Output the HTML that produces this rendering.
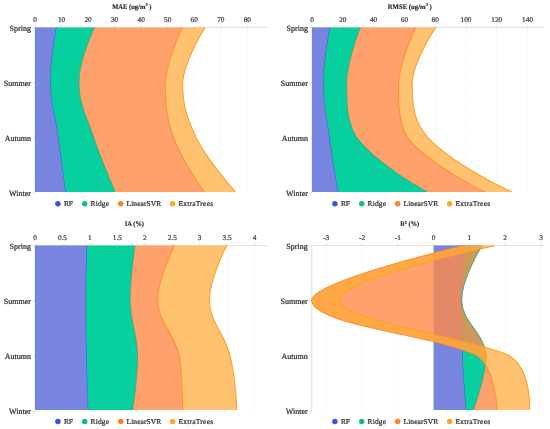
<!DOCTYPE html>
<html lang="en"><head><meta charset="utf-8"><title>Seasonal model metrics</title>
<style>
html,body{margin:0;padding:0;background:#fff;}
body{width:550px;height:429px;overflow:hidden;}
svg{display:block;}
text{font-family:"Liberation Serif", "DejaVu Serif", serif;fill:#2e2e2e;text-rendering:geometricPrecision;stroke:#2e2e2e;stroke-width:0.22px;}
.xl{font-size:7.3px;text-anchor:middle;fill:#3a3a3a;stroke:#3a3a3a;}
.yl{font-size:8px;text-anchor:end;}
.lg{font-size:7.5px;}
.tt{font-size:7px;font-weight:bold;text-anchor:middle;fill:#1e1e1e;stroke:#1e1e1e;stroke-width:0.15px;}
.sl{stroke:#e9e9e9;stroke-width:0.6;stroke-dasharray:1.6 1.6;}
.ax{stroke:#d2d2d2;stroke-width:0.7;}
</style></head>
<body>
<svg width="550" height="429" viewBox="0 0 550 429">
<rect width="550" height="429" fill="#fff"/>
<g class="panel">
<line x1="35" y1="27.4" x2="35" y2="191.9" class="sl"/>
<line x1="61.54" y1="27.4" x2="61.54" y2="191.9" class="sl"/>
<line x1="88.08" y1="27.4" x2="88.08" y2="191.9" class="sl"/>
<line x1="114.62" y1="27.4" x2="114.62" y2="191.9" class="sl"/>
<line x1="141.16" y1="27.4" x2="141.16" y2="191.9" class="sl"/>
<line x1="167.7" y1="27.4" x2="167.7" y2="191.9" class="sl"/>
<line x1="194.24" y1="27.4" x2="194.24" y2="191.9" class="sl"/>
<line x1="220.78" y1="27.4" x2="220.78" y2="191.9" class="sl"/>
<line x1="247.32" y1="27.4" x2="247.32" y2="191.9" class="sl"/>
<line x1="35" y1="27.4" x2="35" y2="193.35" class="ax"/>
<line x1="35" y1="27.4" x2="267.5" y2="27.4" class="ax"/>
<line x1="35" y1="24.9" x2="35" y2="27.4" class="ax"/>
<line x1="61.54" y1="24.9" x2="61.54" y2="27.4" class="ax"/>
<line x1="88.08" y1="24.9" x2="88.08" y2="27.4" class="ax"/>
<line x1="114.62" y1="24.9" x2="114.62" y2="27.4" class="ax"/>
<line x1="141.16" y1="24.9" x2="141.16" y2="27.4" class="ax"/>
<line x1="167.7" y1="24.9" x2="167.7" y2="27.4" class="ax"/>
<line x1="194.24" y1="24.9" x2="194.24" y2="27.4" class="ax"/>
<line x1="220.78" y1="24.9" x2="220.78" y2="27.4" class="ax"/>
<line x1="247.32" y1="24.9" x2="247.32" y2="27.4" class="ax"/>
<line x1="32.5" y1="27.6" x2="35" y2="27.6" class="ax"/>
<line x1="32.5" y1="82.75" x2="35" y2="82.75" class="ax"/>
<line x1="32.5" y1="137.9" x2="35" y2="137.9" class="ax"/>
<line x1="32.5" y1="193.05" x2="35" y2="193.05" class="ax"/>
<text x="35" y="22.1" class="xl">0</text>
<text x="61.54" y="22.1" class="xl">10</text>
<text x="88.08" y="22.1" class="xl">20</text>
<text x="114.62" y="22.1" class="xl">30</text>
<text x="141.16" y="22.1" class="xl">40</text>
<text x="167.7" y="22.1" class="xl">50</text>
<text x="194.24" y="22.1" class="xl">60</text>
<text x="220.78" y="22.1" class="xl">70</text>
<text x="247.32" y="22.1" class="xl">80</text>
<text x="30.9" y="30.8" class="yl">Spring</text>
<text x="30.9" y="85.95" class="yl">Summer</text>
<text x="30.9" y="141.1" class="yl">Autumn</text>
<text x="30.9" y="196.25" class="yl">Winter</text>
<text x="131.8" y="8.5" class="tt" textLength="39.2" lengthAdjust="spacingAndGlyphs">MAE (ug/m<tspan dy="-2.4" font-size="4.7">3</tspan><tspan dy="2.4"> )</tspan></text>
<path d="M56.42 27.4C56.42 27.4 50.5 60.35 50.5 82.23C50.91 104.22 55.43 115.11 58.49 137.07C61.54 158.98 65.79 191.9 65.79 191.9L35 191.9L35 27.4Z" fill="#4c5fd7" fill-opacity="0.76"/>
<path d="M56.42 27.4C56.42 27.4 50.5 60.35 50.5 82.23C50.91 104.22 55.43 115.11 58.49 137.07C61.54 158.98 65.79 191.9 65.79 191.9" fill="none" stroke="#4355e0" stroke-width="1.1"/>
<path d="M94.45 27.4C94.45 27.4 79.22 60.26 79.06 82.23C79.06 104.13 86.52 115.56 93.65 137.07C101.07 159.43 115.42 191.9 115.42 191.9L65.79 191.9C65.79 191.9 61.54 158.98 58.49 137.07C55.43 115.11 50.91 104.22 50.5 82.23C50.5 60.35 56.42 27.4 56.42 27.4Z" fill="#00cd9b" fill-opacity="0.97"/>
<path d="M94.45 27.4C94.45 27.4 79.22 60.26 79.06 82.23C79.06 104.13 86.52 115.56 93.65 137.07C101.07 159.43 115.42 191.9 115.42 191.9" fill="none" stroke="#06b889" stroke-width="1.1"/>
<path d="M182.3 27.4C182.3 27.4 167.09 59.92 165.31 82.23C165.31 103.79 166.23 116.51 173.54 137.07C181.83 160.38 204.33 191.9 204.33 191.9L115.42 191.9C115.42 191.9 101.07 159.43 93.65 137.07C86.52 115.56 79.06 104.13 79.06 82.23C79.22 60.26 94.45 27.4 94.45 27.4Z" fill="#ff8a47" fill-opacity="0.8"/>
<path d="M182.3 27.4C182.3 27.4 167.09 59.92 165.31 82.23C165.31 103.79 166.23 116.51 173.54 137.07C181.83 160.38 204.33 191.9 204.33 191.9" fill="none" stroke="#ff8127" stroke-width="1.1"/>
<path d="M204.99 27.4C204.99 27.4 184.44 59.76 182.56 82.23C182.56 103.63 186.22 117.11 195.83 137.07C207.35 160.98 235.38 191.9 235.38 191.9L204.33 191.9C204.33 191.9 181.83 160.38 173.54 137.07C166.23 116.51 165.31 103.79 165.31 82.23C167.09 59.92 182.3 27.4 182.3 27.4Z" fill="#ffab3a" fill-opacity="0.72"/>
<path d="M204.99 27.4C204.99 27.4 184.44 59.76 182.56 82.23C182.56 103.63 186.22 117.11 195.83 137.07C207.35 160.98 235.38 191.9 235.38 191.9" fill="none" stroke="#ffa020" stroke-width="1.1"/>
<circle cx="57.9" cy="203.8" r="2.75" fill="#3b55e0"/>
<text x="64" y="206.4" class="lg" textLength="8.9" lengthAdjust="spacing">RF</text>
<circle cx="84.7" cy="203.8" r="2.75" fill="#10bf85"/>
<text x="90.5" y="206.4" class="lg" textLength="18.5" lengthAdjust="spacing">Ridge</text>
<circle cx="120.7" cy="203.8" r="2.75" fill="#ff7f2a"/>
<text x="126.5" y="206.4" class="lg" textLength="34.8" lengthAdjust="spacing">LinearSVR</text>
<circle cx="172.6" cy="203.8" r="2.75" fill="#ffa726"/>
<text x="178.5" y="206.4" class="lg" textLength="34.6" lengthAdjust="spacing">ExtraTrees</text>
</g>
<g class="panel">
<line x1="312" y1="27.4" x2="312" y2="191.9" class="sl"/>
<line x1="342.8" y1="27.4" x2="342.8" y2="191.9" class="sl"/>
<line x1="373.6" y1="27.4" x2="373.6" y2="191.9" class="sl"/>
<line x1="404.4" y1="27.4" x2="404.4" y2="191.9" class="sl"/>
<line x1="435.2" y1="27.4" x2="435.2" y2="191.9" class="sl"/>
<line x1="466" y1="27.4" x2="466" y2="191.9" class="sl"/>
<line x1="496.8" y1="27.4" x2="496.8" y2="191.9" class="sl"/>
<line x1="527.6" y1="27.4" x2="527.6" y2="191.9" class="sl"/>
<line x1="312" y1="27.4" x2="312" y2="193.35" class="ax"/>
<line x1="312" y1="27.4" x2="544" y2="27.4" class="ax"/>
<line x1="312" y1="24.9" x2="312" y2="27.4" class="ax"/>
<line x1="342.8" y1="24.9" x2="342.8" y2="27.4" class="ax"/>
<line x1="373.6" y1="24.9" x2="373.6" y2="27.4" class="ax"/>
<line x1="404.4" y1="24.9" x2="404.4" y2="27.4" class="ax"/>
<line x1="435.2" y1="24.9" x2="435.2" y2="27.4" class="ax"/>
<line x1="466" y1="24.9" x2="466" y2="27.4" class="ax"/>
<line x1="496.8" y1="24.9" x2="496.8" y2="27.4" class="ax"/>
<line x1="527.6" y1="24.9" x2="527.6" y2="27.4" class="ax"/>
<line x1="309.5" y1="27.6" x2="312" y2="27.6" class="ax"/>
<line x1="309.5" y1="82.75" x2="312" y2="82.75" class="ax"/>
<line x1="309.5" y1="137.9" x2="312" y2="137.9" class="ax"/>
<line x1="309.5" y1="193.05" x2="312" y2="193.05" class="ax"/>
<text x="312" y="22.1" class="xl">0</text>
<text x="342.8" y="22.1" class="xl">20</text>
<text x="373.6" y="22.1" class="xl">40</text>
<text x="404.4" y="22.1" class="xl">60</text>
<text x="435.2" y="22.1" class="xl">80</text>
<text x="466" y="22.1" class="xl">100</text>
<text x="496.8" y="22.1" class="xl">120</text>
<text x="527.6" y="22.1" class="xl">140</text>
<text x="307.9" y="30.8" class="yl">Spring</text>
<text x="307.9" y="85.95" class="yl">Summer</text>
<text x="307.9" y="141.1" class="yl">Autumn</text>
<text x="307.9" y="196.25" class="yl">Winter</text>
<text x="409.8" y="8.5" class="tt" textLength="44.1" lengthAdjust="spacingAndGlyphs">RMSE (ug/m<tspan dy="-2.4" font-size="4.7">3</tspan><tspan dy="2.4"> )</tspan></text>
<path d="M330.17 27.4C330.17 27.4 323.83 60.29 323.7 82.23C323.7 104.15 326.64 115.21 329.56 137.07C332.49 159.08 338.33 191.9 338.33 191.9L312 191.9L312 27.4Z" fill="#4c5fd7" fill-opacity="0.76"/>
<path d="M330.17 27.4C330.17 27.4 323.83 60.29 323.7 82.23C323.7 104.15 326.64 115.21 329.56 137.07C332.49 159.08 338.33 191.9 338.33 191.9" fill="none" stroke="#4355e0" stroke-width="1.1"/>
<path d="M360.36 27.4C360.36 27.4 347.58 60.14 346.8 82.23C346.8 104.01 346.8 120.25 356.51 137.07C376.37 164.12 427.35 191.9 427.35 191.9L338.33 191.9C338.33 191.9 332.49 159.08 329.56 137.07C326.64 115.21 323.7 104.15 323.7 82.23C323.83 60.29 330.17 27.4 330.17 27.4Z" fill="#00cd9b" fill-opacity="0.97"/>
<path d="M360.36 27.4C360.36 27.4 347.58 60.14 346.8 82.23C346.8 104.01 346.8 120.25 356.51 137.07C376.37 164.12 427.35 191.9 427.35 191.9" fill="none" stroke="#06b889" stroke-width="1.1"/>
<path d="M415.64 27.4C415.64 27.4 400.33 59.92 398.55 82.23C398.55 103.78 398.55 120.95 406.86 137.07C428.77 164.82 485.1 191.9 485.1 191.9L427.35 191.9C427.35 191.9 376.37 164.12 356.51 137.07C346.8 120.25 346.8 104.01 346.8 82.23C347.58 60.14 360.36 27.4 360.36 27.4Z" fill="#ff8a47" fill-opacity="0.8"/>
<path d="M415.64 27.4C415.64 27.4 400.33 59.92 398.55 82.23C398.55 103.78 398.55 120.95 406.86 137.07C428.77 164.82 485.1 191.9 485.1 191.9" fill="none" stroke="#ff8127" stroke-width="1.1"/>
<path d="M435.66 27.4C435.66 27.4 413.77 59.79 412.1 82.23C412.1 103.65 413.08 121.2 427.5 137.07C452.94 165.07 511.74 191.9 511.74 191.9L485.1 191.9C485.1 191.9 428.77 164.82 406.86 137.07C398.55 120.95 398.55 103.78 398.55 82.23C400.33 59.92 415.64 27.4 415.64 27.4Z" fill="#ffab3a" fill-opacity="0.72"/>
<path d="M435.66 27.4C435.66 27.4 413.77 59.79 412.1 82.23C412.1 103.65 413.08 121.2 427.5 137.07C452.94 165.07 511.74 191.9 511.74 191.9" fill="none" stroke="#ffa020" stroke-width="1.1"/>
<circle cx="334.9" cy="203.8" r="2.75" fill="#3b55e0"/>
<text x="341" y="206.4" class="lg" textLength="8.9" lengthAdjust="spacing">RF</text>
<circle cx="361.7" cy="203.8" r="2.75" fill="#10bf85"/>
<text x="367.5" y="206.4" class="lg" textLength="18.5" lengthAdjust="spacing">Ridge</text>
<circle cx="397.7" cy="203.8" r="2.75" fill="#ff7f2a"/>
<text x="403.5" y="206.4" class="lg" textLength="34.8" lengthAdjust="spacing">LinearSVR</text>
<circle cx="449.6" cy="203.8" r="2.75" fill="#ffa726"/>
<text x="455.5" y="206.4" class="lg" textLength="34.6" lengthAdjust="spacing">ExtraTrees</text>
</g>
<g class="panel">
<line x1="35" y1="245.6" x2="35" y2="410" class="sl"/>
<line x1="62.45" y1="245.6" x2="62.45" y2="410" class="sl"/>
<line x1="89.9" y1="245.6" x2="89.9" y2="410" class="sl"/>
<line x1="117.35" y1="245.6" x2="117.35" y2="410" class="sl"/>
<line x1="144.8" y1="245.6" x2="144.8" y2="410" class="sl"/>
<line x1="172.25" y1="245.6" x2="172.25" y2="410" class="sl"/>
<line x1="199.7" y1="245.6" x2="199.7" y2="410" class="sl"/>
<line x1="227.15" y1="245.6" x2="227.15" y2="410" class="sl"/>
<line x1="254.6" y1="245.6" x2="254.6" y2="410" class="sl"/>
<line x1="35" y1="245.6" x2="35" y2="411.55" class="ax"/>
<line x1="35" y1="245.6" x2="267.5" y2="245.6" class="ax"/>
<line x1="35" y1="243.1" x2="35" y2="245.6" class="ax"/>
<line x1="62.45" y1="243.1" x2="62.45" y2="245.6" class="ax"/>
<line x1="89.9" y1="243.1" x2="89.9" y2="245.6" class="ax"/>
<line x1="117.35" y1="243.1" x2="117.35" y2="245.6" class="ax"/>
<line x1="144.8" y1="243.1" x2="144.8" y2="245.6" class="ax"/>
<line x1="172.25" y1="243.1" x2="172.25" y2="245.6" class="ax"/>
<line x1="199.7" y1="243.1" x2="199.7" y2="245.6" class="ax"/>
<line x1="227.15" y1="243.1" x2="227.15" y2="245.6" class="ax"/>
<line x1="254.6" y1="243.1" x2="254.6" y2="245.6" class="ax"/>
<line x1="32.5" y1="245.8" x2="35" y2="245.8" class="ax"/>
<line x1="32.5" y1="300.95" x2="35" y2="300.95" class="ax"/>
<line x1="32.5" y1="356.1" x2="35" y2="356.1" class="ax"/>
<line x1="32.5" y1="411.25" x2="35" y2="411.25" class="ax"/>
<text x="35" y="240.3" class="xl">0</text>
<text x="62.45" y="240.3" class="xl">0.5</text>
<text x="89.9" y="240.3" class="xl">1</text>
<text x="117.35" y="240.3" class="xl">1.5</text>
<text x="144.8" y="240.3" class="xl">2</text>
<text x="172.25" y="240.3" class="xl">2.5</text>
<text x="199.7" y="240.3" class="xl">3</text>
<text x="227.15" y="240.3" class="xl">3.5</text>
<text x="254.6" y="240.3" class="xl">4</text>
<text x="30.9" y="249" class="yl">Spring</text>
<text x="30.9" y="304.15" class="yl">Summer</text>
<text x="30.9" y="359.3" class="yl">Autumn</text>
<text x="30.9" y="414.45" class="yl">Winter</text>
<text x="134.4" y="226.4" class="tt" textLength="19.2" lengthAdjust="spacingAndGlyphs">IA (%)</text>
<path d="M87.21 245.6C87.21 245.6 86 278.48 85.89 300.4C85.89 322.32 86.14 333.28 86.66 355.2C87.18 377.12 88.47 410 88.47 410L35 410L35 245.6Z" fill="#4c5fd7" fill-opacity="0.76"/>
<path d="M87.21 245.6C87.21 245.6 86 278.48 85.89 300.4C85.89 322.32 86.14 333.28 86.66 355.2C87.18 377.12 88.47 410 88.47 410" fill="none" stroke="#4355e0" stroke-width="1.1"/>
<path d="M135.14 245.6C135.14 245.6 130.25 278.54 130.25 300.4C130.76 322.38 137.15 333.22 137.66 355.2C137.66 377.06 132.83 410 132.83 410L88.47 410C88.47 410 87.18 377.12 86.66 355.2C86.14 333.28 85.89 322.32 85.89 300.4C86 278.48 87.21 245.6 87.21 245.6Z" fill="#00cd9b" fill-opacity="0.97"/>
<path d="M135.14 245.6C135.14 245.6 130.25 278.54 130.25 300.4C130.76 322.38 137.15 333.22 137.66 355.2C137.66 377.06 132.83 410 132.83 410" fill="none" stroke="#06b889" stroke-width="1.1"/>
<path d="M174.72 245.6C174.72 245.6 157.59 278.76 157.59 300.4C158.48 322.6 173.92 332.52 179.11 355.2C182.68 376.36 182.68 410 182.68 410L132.83 410C132.83 410 137.66 377.06 137.66 355.2C137.15 333.22 130.76 322.38 130.25 300.4C130.25 278.54 135.14 245.6 135.14 245.6Z" fill="#ff8a47" fill-opacity="0.8"/>
<path d="M174.72 245.6C174.72 245.6 157.59 278.76 157.59 300.4C158.48 322.6 173.92 332.52 179.11 355.2C182.68 376.36 182.68 410 182.68 410" fill="none" stroke="#ff8127" stroke-width="1.1"/>
<path d="M226.82 245.6C226.82 245.6 209.36 278.67 209.36 300.4C209.98 322.51 224.25 332.65 229.89 355.2C235.23 376.49 236.81 410 236.81 410L182.68 410C182.68 410 182.68 376.36 179.11 355.2C173.92 332.52 158.48 322.6 157.59 300.4C157.59 278.76 174.72 245.6 174.72 245.6Z" fill="#ffab3a" fill-opacity="0.72"/>
<path d="M226.82 245.6C226.82 245.6 209.36 278.67 209.36 300.4C209.98 322.51 224.25 332.65 229.89 355.2C235.23 376.49 236.81 410 236.81 410" fill="none" stroke="#ffa020" stroke-width="1.1"/>
<circle cx="57.9" cy="421.6" r="2.75" fill="#3b55e0"/>
<text x="64" y="424.2" class="lg" textLength="8.9" lengthAdjust="spacing">RF</text>
<circle cx="84.7" cy="421.6" r="2.75" fill="#10bf85"/>
<text x="90.5" y="424.2" class="lg" textLength="18.5" lengthAdjust="spacing">Ridge</text>
<circle cx="120.7" cy="421.6" r="2.75" fill="#ff7f2a"/>
<text x="126.5" y="424.2" class="lg" textLength="34.8" lengthAdjust="spacing">LinearSVR</text>
<circle cx="172.6" cy="421.6" r="2.75" fill="#ffa726"/>
<text x="178.5" y="424.2" class="lg" textLength="34.6" lengthAdjust="spacing">ExtraTrees</text>
</g>
<g class="panel">
<line x1="326.2" y1="245.6" x2="326.2" y2="410" class="sl"/>
<line x1="362" y1="245.6" x2="362" y2="410" class="sl"/>
<line x1="397.8" y1="245.6" x2="397.8" y2="410" class="sl"/>
<line x1="433.6" y1="245.6" x2="433.6" y2="410" class="sl"/>
<line x1="469.4" y1="245.6" x2="469.4" y2="410" class="sl"/>
<line x1="505.2" y1="245.6" x2="505.2" y2="410" class="sl"/>
<line x1="541" y1="245.6" x2="541" y2="410" class="sl"/>
<line x1="311.8" y1="245.6" x2="311.8" y2="411.55" class="ax"/>
<line x1="311.8" y1="245.6" x2="544" y2="245.6" class="ax"/>
<line x1="326.2" y1="243.1" x2="326.2" y2="245.6" class="ax"/>
<line x1="362" y1="243.1" x2="362" y2="245.6" class="ax"/>
<line x1="397.8" y1="243.1" x2="397.8" y2="245.6" class="ax"/>
<line x1="433.6" y1="243.1" x2="433.6" y2="245.6" class="ax"/>
<line x1="469.4" y1="243.1" x2="469.4" y2="245.6" class="ax"/>
<line x1="505.2" y1="243.1" x2="505.2" y2="245.6" class="ax"/>
<line x1="541" y1="243.1" x2="541" y2="245.6" class="ax"/>
<line x1="309.3" y1="245.8" x2="311.8" y2="245.8" class="ax"/>
<line x1="309.3" y1="300.95" x2="311.8" y2="300.95" class="ax"/>
<line x1="309.3" y1="356.1" x2="311.8" y2="356.1" class="ax"/>
<line x1="309.3" y1="411.25" x2="311.8" y2="411.25" class="ax"/>
<text x="326.2" y="240.3" class="xl">-3</text>
<text x="362" y="240.3" class="xl">-2</text>
<text x="397.8" y="240.3" class="xl">-1</text>
<text x="433.6" y="240.3" class="xl">0</text>
<text x="469.4" y="240.3" class="xl">1</text>
<text x="505.2" y="240.3" class="xl">2</text>
<text x="541" y="240.3" class="xl">3</text>
<text x="307.7" y="249" class="yl">Spring</text>
<text x="307.7" y="304.15" class="yl">Summer</text>
<text x="307.7" y="359.3" class="yl">Autumn</text>
<text x="307.7" y="414.45" class="yl">Winter</text>
<text x="409.7" y="226.4" class="tt" textLength="18.9" lengthAdjust="spacingAndGlyphs">R<tspan dy="-2.4" font-size="4.7">2</tspan><tspan dy="2.4"> (%)</tspan></text>
<path d="M464.03 245.6C464.03 245.6 461.81 278.47 461.52 300.4C461.52 322.31 461.63 333.3 462.6 355.2C463.57 377.14 466.39 410 466.39 410L433.6 410L433.6 245.6Z" fill="#4c5fd7" fill-opacity="0.76"/>
<path d="M464.03 245.6C464.03 245.6 461.81 278.47 461.52 300.4C461.52 322.31 461.63 333.3 462.6 355.2C463.57 377.14 466.39 410 466.39 410" fill="none" stroke="#4355e0" stroke-width="1.1"/>
<path d="M481.93 245.6C481.93 245.6 461.52 278.78 461.52 300.4C462.4 322.62 483.79 332.56 486.23 355.2C486.23 376.4 473.34 410 473.34 410L466.39 410C466.39 410 463.57 377.14 462.6 355.2C461.63 333.3 461.52 322.31 461.52 300.4C461.81 278.47 464.03 245.6 464.03 245.6Z" fill="#00cd9b" fill-opacity="0.97"/>
<path d="M481.93 245.6C481.93 245.6 461.52 278.78 461.52 300.4C462.4 322.62 483.79 332.56 486.23 355.2C486.23 376.4 473.34 410 473.34 410" fill="none" stroke="#06b889" stroke-width="1.1"/>
<path d="M464.03 245.6C464.03 245.6 311.88 281.4 311.88 300.4C313.38 325.4 436.56 335.2 476.56 355.2C495.26 366.26 497.18 410 497.18 410L473.34 410C473.34 410 486.23 376.4 486.23 355.2C483.79 332.56 462.4 322.62 461.52 300.4C461.52 278.78 481.93 245.6 481.93 245.6Z" fill="#ff8a47" fill-opacity="0.8"/>
<path d="M464.03 245.6C464.03 245.6 311.88 281.4 311.88 300.4C313.38 325.4 436.56 335.2 476.56 355.2C495.26 366.26 497.18 410 497.18 410" fill="none" stroke="#ff8127" stroke-width="1.1"/>
<path d="M494.46 245.6C494.46 245.6 339.09 279.35 339.09 300.4C340.89 320.4 466.78 337.2 508.78 355.2C529.78 368.2 529.72 400 529.72 410L497.18 410C497.18 410 495.26 366.26 476.56 355.2C436.56 335.2 313.38 325.4 311.88 300.4C311.88 281.4 464.03 245.6 464.03 245.6Z" fill="#ffab3a" fill-opacity="0.72"/>
<path d="M494.46 245.6C494.46 245.6 339.09 279.35 339.09 300.4C340.89 320.4 466.78 337.2 508.78 355.2C529.78 368.2 529.72 400 529.72 410" fill="none" stroke="#ffa020" stroke-width="1.1"/>
<circle cx="334.9" cy="421.6" r="2.75" fill="#3b55e0"/>
<text x="341" y="424.2" class="lg" textLength="8.9" lengthAdjust="spacing">RF</text>
<circle cx="361.7" cy="421.6" r="2.75" fill="#10bf85"/>
<text x="367.5" y="424.2" class="lg" textLength="18.5" lengthAdjust="spacing">Ridge</text>
<circle cx="397.7" cy="421.6" r="2.75" fill="#ff7f2a"/>
<text x="403.5" y="424.2" class="lg" textLength="34.8" lengthAdjust="spacing">LinearSVR</text>
<circle cx="449.6" cy="421.6" r="2.75" fill="#ffa726"/>
<text x="455.5" y="424.2" class="lg" textLength="34.6" lengthAdjust="spacing">ExtraTrees</text>
</g>
</svg>
</body></html>
